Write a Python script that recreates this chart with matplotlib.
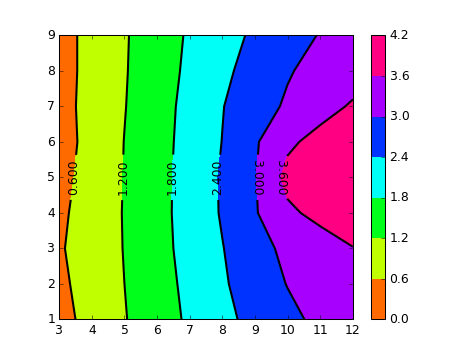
import matplotlib
matplotlib.use("Agg")

import matplotlib.pyplot as plt
import numpy as np

# grid coordinates
x_vals = [3, 4, 5, 6, 7, 8, 9, 10, 11, 12]
y_vals = [1, 2, 3, 4, 5, 6, 7, 8, 9]

# values, one row per y (bottom to top)
z_rows = [
    [0.41, 0.79, 1.17, 1.53, 1.89, 2.25, 2.57, 2.85, 3.14, 3.40],
    [0.48, 0.84, 1.20, 1.57, 1.94, 2.33, 2.68, 3.02, 3.30, 3.45],
    [0.54, 0.88, 1.22, 1.61, 1.99, 2.38, 2.78, 3.14, 3.35, 3.58],
    [0.49, 0.86, 1.23, 1.62, 2.02, 2.45, 2.95, 3.50, 3.75, 4.00],
    [0.42, 0.82, 1.22, 1.61, 2.02, 2.46, 2.97, 3.76, 3.95, 4.10],
    [0.36, 0.79, 1.21, 1.60, 1.99, 2.41, 2.93, 3.50, 3.78, 4.00],
    [0.40, 0.79, 1.18, 1.57, 1.97, 2.38, 2.74, 3.08, 3.40, 3.66],
    [0.39, 0.77, 1.16, 1.54, 1.91, 2.28, 2.62, 2.95, 3.20, 3.35],
    [0.39, 0.77, 1.15, 1.51, 1.87, 2.19, 2.49, 2.76, 3.03, 3.30],
]

levels = [0.0, 0.6, 1.2, 1.8, 2.4, 3.0, 3.6, 4.2]
# where the inline labels sit, and which way they read
label_spots = [(3.45, 5.0), (4.95, 5.0), (6.5, 5.0), (7.9, 5.0), (9.05, 5.0), (9.8, 5.0)]
label_rot = [90, 90, 90, 90, 270, 270]

plt.style.use('classic')

X, Y = np.meshgrid(x_vals, y_vals)
Z = np.array(z_rows)

fig = plt.figure(figsize=(6.4, 4.8), dpi=74)
ax = fig.add_subplot(111)

cf = ax.contourf(X, Y, Z, levels=levels, cmap='hsv')
cs = ax.contour(X, Y, Z, levels=levels[1:-1], colors='k', linewidths=2)
labels = ax.clabel(cs, fmt='%1.3f', inline=True, manual=label_spots, fontsize=12)

# old-style labels follow the line direction
for txt in labels:
    lvl = float(txt.get_text())
    idx = levels[1:-1].index(round(lvl, 1))
    txt.set_rotation(label_rot[idx])

cb = fig.colorbar(cf, ax=ax)
cb.set_ticks(levels)
cb.set_ticklabels(['%.1f' % v for v in levels])

ax.set_xlim(3, 12)
ax.set_ylim(1, 9)
ax.set_xticks(x_vals)
ax.set_yticks(y_vals)

fig.savefig('out.png', dpi=74)
